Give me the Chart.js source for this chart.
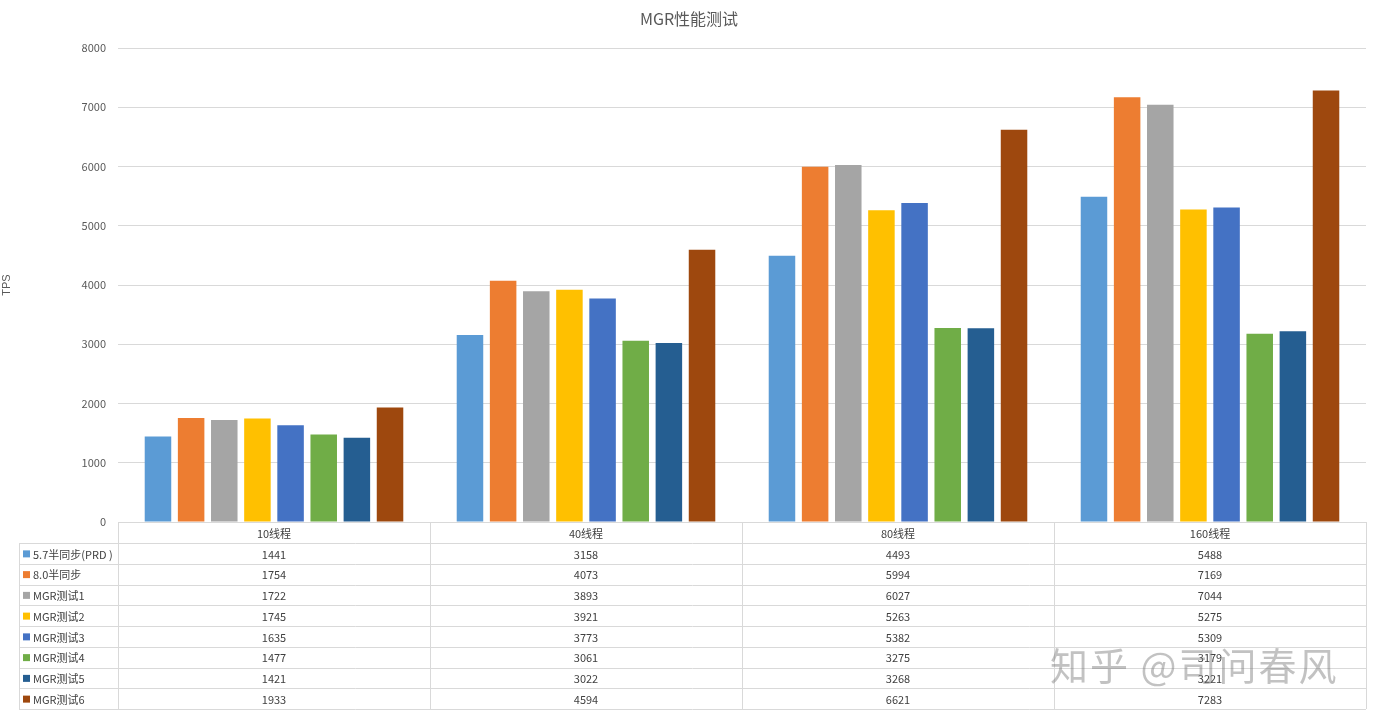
<!DOCTYPE html>
<html><head><meta charset="utf-8">
<script src="https://cdn.jsdelivr.net/npm/chart.js@4"></script>
<style>html,body{margin:0;padding:0;background:#fff}#wm{position:absolute;left:1050px;top:636px;font:38px "Noto Sans CJK SC";color:rgba(120,120,120,0.45);pointer-events:none;letter-spacing:2px}</style>
</head><body>
<canvas id="c" width="1382" height="717"></canvas>
<div id="wm">知乎 @司问春风</div>
<script>
const categories = ["10线程","40线程","80线程","160线程"];
const seriesNames = ["5.7半同步(PRD )","8.0半同步","MGR测试1","MGR测试2","MGR测试3","MGR测试4","MGR测试5","MGR测试6"];
const s57 = [1441,3158,4493,5488];
const s80 = [1754,4073,5994,7169];
const mgr1 = [1722,3893,6027,7044];
const mgr2 = [1745,3921,5263,5275];
const mgr3 = [1635,3773,5382,5309];
const mgr4 = [1477,3061,3275,3179];
const mgr5 = [1421,3022,3268,3221];
const mgr6 = [1933,4594,6621,7283];
const seriesValues = [s57,s80,mgr1,mgr2,mgr3,mgr4,mgr5,mgr6];
const colors = ["#5b9bd5","#ed7d31","#a5a5a5","#ffc000","#4472c4","#70ad47","#255e91","#9e480e"];

const tablePlugin = {
  id:'tbl',
  afterDraw(chart){
    const ctx = chart.ctx, x = chart.scales.x, ca = chart.chartArea;
    const top = ca.bottom, left = 19, hdr = 21, rh = 20.75, bottom = top + hdr + rh*8;
    ctx.save();
    ctx.strokeStyle = '#d9d9d9'; ctx.lineWidth = 1;
    ctx.beginPath();
    ctx.moveTo(ca.left, top+0.5); ctx.lineTo(ca.right, top+0.5);
    for(let i=0;i<=8;i++){const y=Math.round(top+hdr+rh*i)+0.5; ctx.moveTo(left,y); ctx.lineTo(ca.right,y);}
    ctx.moveTo(left+0.5, top+hdr); ctx.lineTo(left+0.5, bottom);
    const w = (ca.right-ca.left)/categories.length;
    for(let i=0;i<=categories.length;i++){const xx=Math.round(ca.left+w*i)+0.5; ctx.moveTo(xx,top); ctx.lineTo(xx,bottom);}
    ctx.stroke();
    ctx.fillStyle='#404040'; ctx.font='11px "Noto Sans CJK SC", sans-serif'; ctx.textBaseline='middle'; ctx.textAlign='center';
    categories.forEach((c,i)=>ctx.fillText(c, x.getPixelForValue(i), top+hdr/2+1));
    seriesValues.forEach((arr,r)=>{
      const cy = top+hdr+rh*r+rh/2+1;
      arr.forEach((v,i)=>ctx.fillText(String(v), x.getPixelForValue(i), cy));
      ctx.fillStyle=colors[r]; ctx.fillRect(left+4, cy-4, 7, 7);
      ctx.fillStyle='#404040'; ctx.textAlign='left'; ctx.fillText(seriesNames[r], left+14, cy); ctx.textAlign='center';
    });
    ctx.fillStyle='#595959'; ctx.font='16px "Noto Sans CJK SC", sans-serif';
    ctx.fillText('MGR性能测试', 689, 19);
    ctx.restore();
  }
};

new Chart(document.getElementById('c'), {
  type:'bar',
  data:{labels:categories, datasets:seriesValues.map((d,i)=>({label:seriesNames[i], data:d, backgroundColor:colors[i], categoryPercentage:0.85, barPercentage:0.8}))},
  options:{
    responsive:false, animation:false, devicePixelRatio:1,
    layout:{padding:{top:48,right:16,bottom:187,left:0}},
    plugins:{legend:{display:false},title:{display:false},tooltip:{enabled:false}},
    scales:{
      x:{ticks:{display:false},grid:{display:false},border:{display:false}},
      y:{min:0,max:8000,ticks:{stepSize:1000,color:'#595959',font:{size:11,family:'"Noto Sans CJK SC", sans-serif'},padding:12,callback:v=>String(v)},
         grid:{color:'#d9d9d9',drawTicks:false},border:{display:false},
         title:{display:true,text:'TPS',color:'#595959',font:{size:11},padding:{top:0,bottom:0}},
         afterFit(s){s.width=118;}}
    }
  },
  plugins:[tablePlugin]
});
</script></body></html>
